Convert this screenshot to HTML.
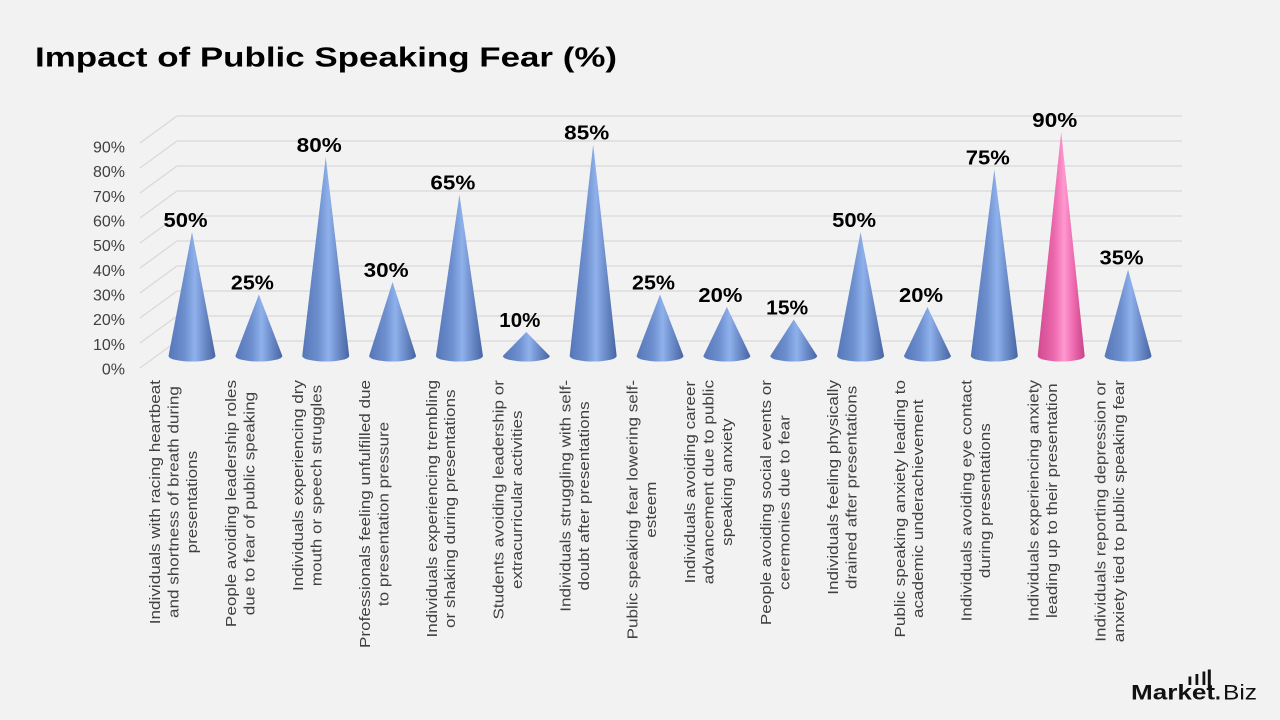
<!DOCTYPE html>
<html>
<head>
<meta charset="utf-8">
<style>
  html,body{margin:0;padding:0;background:#f2f2f2;}
  svg{display:block;}
  .yl{font-family:"Liberation Sans",sans-serif;font-size:16px;fill:#404040;}
  .val{font-family:"Liberation Sans",sans-serif;font-size:20px;font-weight:bold;fill:#000;}
  .cat{font-family:"Liberation Sans",sans-serif;font-size:14.5px;fill:#404040;}
</style>
</head>
<body>
<svg width="1280" height="720" viewBox="0 0 1280 720" xmlns="http://www.w3.org/2000/svg">
  <defs>
    <linearGradient id="gb" x1="0" y1="0" x2="1" y2="0">
      <stop offset="0" stop-color="#5576b8"/>
      <stop offset="0.35" stop-color="#6e90cf"/>
      <stop offset="0.56" stop-color="#8fb1eb"/>
      <stop offset="0.76" stop-color="#6c8cca"/>
      <stop offset="1" stop-color="#4765a2"/>
    </linearGradient>
    <linearGradient id="gp" x1="0" y1="0" x2="1" y2="0">
      <stop offset="0" stop-color="#cf4a90"/>
      <stop offset="0.35" stop-color="#ec68ad"/>
      <stop offset="0.56" stop-color="#ff98d0"/>
      <stop offset="0.76" stop-color="#ee6bb0"/>
      <stop offset="1" stop-color="#c84288"/>
    </linearGradient>
  </defs>
  <rect width="1280" height="720" fill="#f2f2f2"/>

  <!-- Title -->
  <text x="35" y="66.5" font-family="Liberation Sans, sans-serif" font-size="28" font-weight="bold" fill="#000" textLength="582" lengthAdjust="spacingAndGlyphs">Impact of Public Speaking Fear (%)</text>

  <!-- Gridlines -->
  <g stroke="#d9d9d9" stroke-width="1.3" fill="none">
    <path d="M177 341H1182M177 316H1182M177 291H1182M177 266H1182M177 241H1182M177 216H1182M177 191H1182M177 166H1182M177 141H1182M177 116H1182"/>
    <path d="M140 368L177 341M140 343L177 316M140 318L177 291M140 293L177 266M140 268L177 241M140 243L177 216M140 218L177 191M140 193L177 166M140 168L177 141M140 143L177 116"/>
  </g>

  <!-- Y axis labels -->
  <g class="yl" text-anchor="end">
    <text x="125" y="374.5">0%</text>
    <text x="125" y="349.8">10%</text>
    <text x="125" y="325.2">20%</text>
    <text x="125" y="300.5">30%</text>
    <text x="125" y="275.8">40%</text>
    <text x="125" y="251.2">50%</text>
    <text x="125" y="226.5">60%</text>
    <text x="125" y="201.8">70%</text>
    <text x="125" y="177.2">80%</text>
    <text x="125" y="152.5">90%</text>
  </g>

  <!-- Cones -->
  <g fill="url(#gb)">
    <path transform="translate(192,0)" d="M-23.5 356L0 232L23.5 356A23.5 5.5 0 0 1 -23.5 356Z"/>
    <path transform="translate(258.86,0)" d="M-23.5 356L0 294.5L23.5 356A23.5 5.5 0 0 1 -23.5 356Z"/>
    <path transform="translate(325.72,0)" d="M-23.5 356L0 157L23.5 356A23.5 5.5 0 0 1 -23.5 356Z"/>
    <path transform="translate(392.58,0)" d="M-23.5 356L0 282L23.5 356A23.5 5.5 0 0 1 -23.5 356Z"/>
    <path transform="translate(459.44,0)" d="M-23.5 356L0 194.5L23.5 356A23.5 5.5 0 0 1 -23.5 356Z"/>
    <path transform="translate(526.3,0)" d="M-23.5 356L0 332L23.5 356A23.5 5.5 0 0 1 -23.5 356Z"/>
    <path transform="translate(593.16,0)" d="M-23.5 356L0 144.5L23.5 356A23.5 5.5 0 0 1 -23.5 356Z"/>
    <path transform="translate(660.02,0)" d="M-23.5 356L0 294.5L23.5 356A23.5 5.5 0 0 1 -23.5 356Z"/>
    <path transform="translate(726.88,0)" d="M-23.5 356L0 307L23.5 356A23.5 5.5 0 0 1 -23.5 356Z"/>
    <path transform="translate(793.74,0)" d="M-23.5 356L0 319.5L23.5 356A23.5 5.5 0 0 1 -23.5 356Z"/>
    <path transform="translate(860.6,0)" d="M-23.5 356L0 232L23.5 356A23.5 5.5 0 0 1 -23.5 356Z"/>
    <path transform="translate(927.46,0)" d="M-23.5 356L0 307L23.5 356A23.5 5.5 0 0 1 -23.5 356Z"/>
    <path transform="translate(994.32,0)" d="M-23.5 356L0 169.5L23.5 356A23.5 5.5 0 0 1 -23.5 356Z"/>
    <path transform="translate(1128.04,0)" d="M-23.5 356L0 269.5L23.5 356A23.5 5.5 0 0 1 -23.5 356Z"/>
  </g>
  <path fill="url(#gp)" transform="translate(1061.18,0)" d="M-23.5 356L0 132L23.5 356A23.5 5.5 0 0 1 -23.5 356Z"/>

  <!-- Value labels -->
  <g class="val" text-anchor="middle">
    <text x="185.5" y="227" textLength="44" lengthAdjust="spacingAndGlyphs">50%</text>
    <text x="252.4" y="289.5" textLength="43" lengthAdjust="spacingAndGlyphs">25%</text>
    <text x="319.2" y="152" textLength="45" lengthAdjust="spacingAndGlyphs">80%</text>
    <text x="386.1" y="277" textLength="45" lengthAdjust="spacingAndGlyphs">30%</text>
    <text x="452.9" y="189.5" textLength="45" lengthAdjust="spacingAndGlyphs">65%</text>
    <text x="519.8" y="327" textLength="41" lengthAdjust="spacingAndGlyphs">10%</text>
    <text x="586.7" y="139.5" textLength="45" lengthAdjust="spacingAndGlyphs">85%</text>
    <text x="653.5" y="289.5" textLength="43" lengthAdjust="spacingAndGlyphs">25%</text>
    <text x="720.4" y="302" textLength="44" lengthAdjust="spacingAndGlyphs">20%</text>
    <text x="787.2" y="314.5" textLength="42" lengthAdjust="spacingAndGlyphs">15%</text>
    <text x="854.1" y="227" textLength="44" lengthAdjust="spacingAndGlyphs">50%</text>
    <text x="921" y="302" textLength="44" lengthAdjust="spacingAndGlyphs">20%</text>
    <text x="987.8" y="164.5" textLength="44" lengthAdjust="spacingAndGlyphs">75%</text>
    <text x="1054.7" y="127" textLength="45" lengthAdjust="spacingAndGlyphs">90%</text>
    <text x="1121.5" y="264.5" textLength="44" lengthAdjust="spacingAndGlyphs">35%</text>
  </g>

  <!-- Category labels (rotated) -->
  <g class="cat" text-anchor="middle">
    <g class="lab" transform="translate(173.5,380) rotate(-90) scale(1.18,1)">
      <text x="-102" y="-13.5">Individuals with racing heartbeat</text>
      <text x="-102" y="5">and shortness of breath during</text>
      <text x="-102" y="23.5">presentations</text>
    </g>
    <g class="lab" transform="translate(240.36,380) rotate(-90) scale(1.18,1)">
      <text x="-100" y="-4.2">People avoiding leadership roles</text>
      <text x="-100" y="14.3">due to fear of public speaking</text>
    </g>
    <g class="lab" transform="translate(307.22,380) rotate(-90) scale(1.18,1)">
      <text x="-88" y="-4.2">Individuals experiencing dry</text>
      <text x="-88" y="14.3">mouth or speech struggles</text>
    </g>
    <g class="lab" transform="translate(374.08,380) rotate(-90) scale(1.18,1)">
      <text x="-110" y="-4.2">Professionals feeling unfulfilled due</text>
      <text x="-110" y="14.3">to presentation pressure</text>
    </g>
    <g class="lab" transform="translate(440.94,380) rotate(-90) scale(1.18,1)">
      <text x="-108" y="-4.2">Individuals experiencing trembling</text>
      <text x="-108" y="14.3">or shaking during presentations</text>
    </g>
    <g class="lab" transform="translate(507.8,380) rotate(-90) scale(1.18,1)">
      <text x="-92" y="-4.2">Students avoiding leadership or</text>
      <text x="-92" y="14.3">extracurricular activities</text>
    </g>
    <g class="lab" transform="translate(574.66,380) rotate(-90) scale(1.18,1)">
      <text x="-96" y="-4.2">Individuals struggling with self-</text>
      <text x="-96" y="14.3">doubt after presentations</text>
    </g>
    <g class="lab" transform="translate(641.52,380) rotate(-90) scale(1.18,1)">
      <text x="-104" y="-4.2">Public speaking fear lowering self-</text>
      <text x="-104" y="14.3">esteem</text>
    </g>
    <g class="lab" transform="translate(708.38,380) rotate(-90) scale(1.18,1)">
      <text x="-84" y="-13.5">Individuals avoiding career</text>
      <text x="-84" y="5">advancement due to public</text>
      <text x="-84" y="23.5">speaking anxiety</text>
    </g>
    <g class="lab" transform="translate(775.24,380) rotate(-90) scale(1.18,1)">
      <text x="-100" y="-4.2">People avoiding social events or</text>
      <text x="-100" y="14.3">ceremonies due to fear</text>
    </g>
    <g class="lab" transform="translate(842.1,380) rotate(-90) scale(1.18,1)">
      <text x="-90" y="-4.2">Individuals feeling physically</text>
      <text x="-90" y="14.3">drained after presentations</text>
    </g>
    <g class="lab" transform="translate(908.96,380) rotate(-90) scale(1.18,1)">
      <text x="-104" y="-4.2">Public speaking anxiety leading to</text>
      <text x="-104" y="14.3">academic underachievement</text>
    </g>
    <g class="lab" transform="translate(975.82,380) rotate(-90) scale(1.18,1)">
      <text x="-98" y="-4.2">Individuals avoiding eye contact</text>
      <text x="-98" y="14.3">during presentations</text>
    </g>
    <g class="lab" transform="translate(1042.68,380) rotate(-90) scale(1.18,1)">
      <text x="-100" y="-4.2">Individuals experiencing anxiety</text>
      <text x="-100" y="14.3">leading up to their presentation</text>
    </g>
    <g class="lab" transform="translate(1109.54,380) rotate(-90) scale(1.18,1)">
      <text x="-108" y="-4.2">Individuals reporting depression or</text>
      <text x="-108" y="14.3">anxiety tied to public speaking fear</text>
    </g>
  </g>

  <!-- Logo -->
  <g fill="#111">
    <rect x="1188.5" y="676.5" width="2.8" height="8.5"/>
    <rect x="1195.5" y="674" width="2.8" height="11"/>
    <rect x="1202.5" y="671.5" width="2.8" height="13.5"/>
    <rect x="1207.8" y="669.5" width="3" height="20"/>
  </g>
  <text x="1131" y="699.5" font-family="Liberation Sans, sans-serif" font-size="21" font-weight="bold" fill="#111" textLength="84" lengthAdjust="spacingAndGlyphs">Market</text>
  <text x="1215" y="699.5" font-family="Liberation Sans, sans-serif" font-size="21" font-weight="bold" fill="#111">.</text>
  <text x="1223" y="699.5" font-family="Liberation Sans, sans-serif" font-size="21" fill="#111" textLength="34" lengthAdjust="spacingAndGlyphs">Biz</text>
</svg>
<script>
(function(){
  var gs=document.querySelectorAll('g.lab');
  for(var i=0;i<gs.length;i++){
    var ts=gs[i].querySelectorAll('text'),m=0;
    for(var j=0;j<ts.length;j++){var l=ts[j].getComputedTextLength();if(l>m)m=l;}
    for(var j=0;j<ts.length;j++){ts[j].setAttribute('x',(-m/2).toFixed(2));}
  }
})();
</script>
</body>
</html>
